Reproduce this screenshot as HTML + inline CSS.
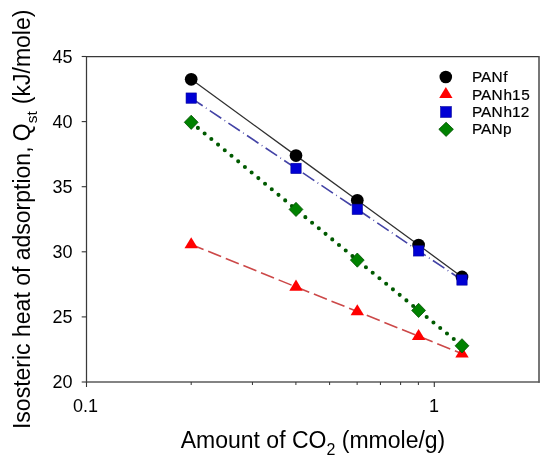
<!DOCTYPE html><html><head><meta charset="utf-8"><style>html,body{margin:0;padding:0;background:#fff;}svg{display:block;}text{font-family:"Liberation Sans",Arial,sans-serif;fill:#000;}</style></head><body>
<svg width="550" height="469" viewBox="0 0 550 469">
<rect width="550" height="469" fill="#fff"/>
<line x1="86.5" y1="56.5" x2="539.0" y2="56.5" stroke="#383838" stroke-width="1.25"/>
<line x1="86.5" y1="55.9" x2="86.5" y2="382.8" stroke="#3a3a3a" stroke-width="1.25"/>
<line x1="539.0" y1="55.9" x2="539.0" y2="382.8" stroke="#4a4a4a" stroke-width="1.5"/>
<line x1="86.5" y1="382.0" x2="539.75" y2="382.0" stroke="#5a5a5a" stroke-width="1.6"/>
<line x1="81.7" y1="382.00" x2="86.5" y2="382.00" stroke="#333" stroke-width="1.1"/>
<text x="72.5" y="388.30" font-size="18" text-anchor="end">20</text>
<line x1="81.7" y1="316.90" x2="86.5" y2="316.90" stroke="#333" stroke-width="1.1"/>
<text x="72.5" y="323.20" font-size="18" text-anchor="end">25</text>
<line x1="81.7" y1="251.80" x2="86.5" y2="251.80" stroke="#333" stroke-width="1.1"/>
<text x="72.5" y="258.10" font-size="18" text-anchor="end">30</text>
<line x1="81.7" y1="186.70" x2="86.5" y2="186.70" stroke="#333" stroke-width="1.1"/>
<text x="72.5" y="193.00" font-size="18" text-anchor="end">35</text>
<line x1="81.7" y1="121.60" x2="86.5" y2="121.60" stroke="#333" stroke-width="1.1"/>
<text x="72.5" y="127.90" font-size="18" text-anchor="end">40</text>
<line x1="81.7" y1="56.50" x2="86.5" y2="56.50" stroke="#333" stroke-width="1.1"/>
<text x="72.5" y="62.80" font-size="18" text-anchor="end">45</text>
<line x1="86.50" y1="382.0" x2="86.50" y2="387" stroke="#333" stroke-width="1.1"/>
<line x1="434.30" y1="382.0" x2="434.30" y2="387" stroke="#333" stroke-width="1.1"/>
<line x1="191.20" y1="382.0" x2="191.20" y2="385" stroke="#333" stroke-width="1.0"/>
<line x1="252.44" y1="382.0" x2="252.44" y2="385" stroke="#333" stroke-width="1.0"/>
<line x1="295.90" y1="382.0" x2="295.90" y2="385" stroke="#333" stroke-width="1.0"/>
<line x1="329.60" y1="382.0" x2="329.60" y2="385" stroke="#333" stroke-width="1.0"/>
<line x1="357.14" y1="382.0" x2="357.14" y2="385" stroke="#333" stroke-width="1.0"/>
<line x1="380.43" y1="382.0" x2="380.43" y2="385" stroke="#333" stroke-width="1.0"/>
<line x1="400.60" y1="382.0" x2="400.60" y2="385" stroke="#333" stroke-width="1.0"/>
<line x1="418.39" y1="382.0" x2="418.39" y2="385" stroke="#333" stroke-width="1.0"/>
<text x="85.5" y="411.7" font-size="18" text-anchor="middle">0.1</text>
<text x="434" y="411.7" font-size="18" text-anchor="middle">1</text>
<text x="313.0" y="447.6" font-size="23" text-anchor="middle">Amount of CO<tspan font-size="16" dy="7.5">2</tspan><tspan dy="-7.5"> (mmole/g)</tspan></text>
<text transform="translate(29.5,219.3) rotate(-90)" x="0" y="0" font-size="23" text-anchor="middle">Isosteric heat of adsorption, <tspan dx="-1.1">Q</tspan><tspan font-size="15.5" dy="7.5">st</tspan><tspan dy="-7.5" dx="0.7"> (kJ/mole)</tspan></text>
<polyline points="191.2,79.3 296.0,155.6 357.3,200.3 418.6,245.1 462.0,276.9" fill="none" stroke="#303030" stroke-width="1.3"/>
<polyline points="191.2,244.5 296.0,286.9 357.3,311.5 418.6,336.2 462.0,353.7" fill="none" stroke="#cc4848" stroke-width="1.6" stroke-dasharray="14 5" stroke-dashoffset="0.7"/>
<polyline points="191.2,98.1 296.0,168.4 357.3,209.3 418.6,250.9 462.0,280.0" fill="none" stroke="#4343a6" stroke-width="1.6" stroke-dasharray="13.8 3.9 0.8 3.9"/>
<polyline points="191.2,122.3 296.0,209.4 357.3,260.1 418.6,310.4 462.0,345.8" fill="none" stroke="#005a00" stroke-width="4.1" stroke-linecap="round" stroke-dasharray="0 8.73"/>
<circle cx="191.2" cy="79.3" r="6.35" fill="#000"/>
<circle cx="296.0" cy="155.6" r="6.35" fill="#000"/>
<circle cx="357.3" cy="200.3" r="6.35" fill="#000"/>
<circle cx="418.6" cy="245.1" r="6.35" fill="#000"/>
<circle cx="462.0" cy="276.9" r="6.35" fill="#000"/>
<polygon points="191.20,237.20 197.90,248.30 184.50,248.30" fill="#ff0000"/>
<polygon points="296.00,279.60 302.70,290.70 289.30,290.70" fill="#ff0000"/>
<polygon points="357.30,304.20 364.00,315.30 350.60,315.30" fill="#ff0000"/>
<polygon points="418.60,328.90 425.30,340.00 411.90,340.00" fill="#ff0000"/>
<polygon points="462.00,346.40 468.70,357.50 455.30,357.50" fill="#ff0000"/>
<rect x="186.05" y="92.95" width="10.3" height="10.3" fill="#0000d4" stroke="#00009a" stroke-width="0.6"/>
<rect x="290.85" y="163.25" width="10.3" height="10.3" fill="#0000d4" stroke="#00009a" stroke-width="0.6"/>
<rect x="352.15" y="204.15" width="10.3" height="10.3" fill="#0000d4" stroke="#00009a" stroke-width="0.6"/>
<rect x="413.45" y="245.75" width="10.3" height="10.3" fill="#0000d4" stroke="#00009a" stroke-width="0.6"/>
<rect x="456.85" y="274.85" width="10.3" height="10.3" fill="#0000d4" stroke="#00009a" stroke-width="0.6"/>
<polygon points="191.20,115.20 198.10,122.30 191.20,129.40 184.30,122.30" fill="#008200" stroke="#005000" stroke-width="0.8" stroke-linejoin="miter"/>
<polygon points="296.00,202.30 302.90,209.40 296.00,216.50 289.10,209.40" fill="#008200" stroke="#005000" stroke-width="0.8" stroke-linejoin="miter"/>
<polygon points="357.30,253.00 364.20,260.10 357.30,267.20 350.40,260.10" fill="#008200" stroke="#005000" stroke-width="0.8" stroke-linejoin="miter"/>
<polygon points="418.60,303.30 425.50,310.40 418.60,317.50 411.70,310.40" fill="#008200" stroke="#005000" stroke-width="0.8" stroke-linejoin="miter"/>
<polygon points="462.00,338.70 468.90,345.80 462.00,352.90 455.10,345.80" fill="#008200" stroke="#005000" stroke-width="0.8" stroke-linejoin="miter"/>
<circle cx="445.8" cy="77.0" r="6.3" fill="#000"/>
<polygon points="445.85,87.10 452.50,97.90 439.20,97.90" fill="#ff0000"/>
<rect x="440.60" y="106.60" width="10.8" height="10.8" fill="#0000d4" stroke="#00009a" stroke-width="0.6"/>
<polygon points="446.10,122.20 453.40,129.30 446.10,136.40 438.80,129.30" fill="#008200" stroke="#005000" stroke-width="0.8" stroke-linejoin="miter"/>
<text x="471.9" y="81.6" dx="0 0 0.3 0.5" font-size="15.4" stroke="#000" stroke-width="0.2">PANf</text>
<text x="471.9" y="99.5" dx="0 0 0.3 0.8 0 0.7" font-size="15.4" stroke="#000" stroke-width="0.2">PANh15</text>
<text x="471.9" y="116.8" dx="0 0 0.3 0.8 0 0.2" font-size="15.4" stroke="#000" stroke-width="0.2">PANh12</text>
<text x="471.9" y="134.1" dx="0 0 0.3 0.2" font-size="15.4" stroke="#000" stroke-width="0.2">PANp</text>
</svg></body></html>
